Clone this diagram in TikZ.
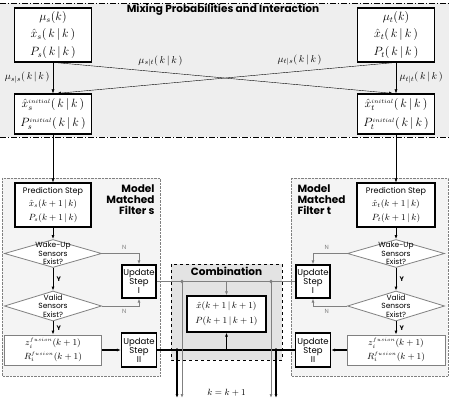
\documentclass[tikz,border=0pt]{standalone}
\usepackage{amsmath}
\usepackage{fontspec}
\newfontfamily\gothic{Poppins}
\usetikzlibrary{shapes.geometric,arrows.meta}

\newcommand{\cnd}[2]{(\,#1\,|\,#2\,)}

\begin{document}
\begin{tikzpicture}[x=1pt,y=-1pt,>={Latex[length=4pt,width=3pt]},
  topbox/.style={draw,very thick,fill=white,align=center,inner sep=0pt,minimum width=77pt,minimum height=54pt,font=\fontsize{12}{17.5}\selectfont},
  initbox/.style={topbox,minimum height=40pt,font=\fontsize{12}{19}\selectfont},
  predbox/.style={draw,very thick,fill=white,align=center,inner sep=0pt,minimum width=76pt,minimum height=44pt,font=\fontsize{9}{13.5}\selectfont},
  updbox/.style={draw,very thick,fill=white,align=center,inner sep=0pt,minimum width=34pt,minimum height=33pt,font=\gothic\fontsize{8.5}{9}\selectfont},
  fusbox/.style={draw=gray,thick,fill=white,align=center,inner sep=0pt,minimum width=97pt,minimum height=30pt,font=\fontsize{9}{13.5}\selectfont},
  combbox/.style={draw,very thick,fill=white,align=center,inner sep=0pt,minimum width=79pt,minimum height=36pt,font=\fontsize{9}{15}\selectfont},
  decision/.style={diamond,draw=gray,thick,fill=white,inner sep=0pt,minimum width=97pt,minimum height=28pt},
  dtext/.style={align=center,font=\gothic\fontsize{7.5}{8.5}\selectfont},
  title/.style={font=\gothic\bfseries\fontsize{10.5}{11}\selectfont},
  nlabel/.style={gray,font=\gothic\fontsize{6}{7}\selectfont},
  ylabel/.style={font=\gothic\bfseries\fontsize{6.5}{7}\selectfont},
  mlabel/.style={font=\fontsize{10}{12}\selectfont},
  garr/.style={->,gray,thick},
  barr/.style={->,thick}]
\useasboundingbox (0,0) rectangle (449,403);

% mixing probabilities region
\fill[gray!13] (0,3) rectangle (449,137);
\draw[dash pattern=on 6pt off 2pt on 1pt off 2pt] (0,3) -- (449,3);
\draw[dash pattern=on 6pt off 2pt on 1pt off 2pt] (0,137) -- (449,137);
\node[title] (mixt) at (223,10) {Mixing Probabilities and Interaction};

\node[topbox] (TL) at (53,35) {$\mu_s(k)$\\$\hat{x}_s\cnd{k}{k}$\\$P_s\cnd{k}{k}$};
\node[topbox] (TR) at (396,35) {$\mu_t(k)$\\$\hat{x}_t\cnd{k}{k}$\\$P_t\cnd{k}{k}$};
\node[initbox] (TLi) at (53,114) {$\hat{x}_s^{\scriptscriptstyle initial}\cnd{k}{k}$\\$P_s^{\scriptscriptstyle initial}\cnd{k}{k}$};
\node[initbox] (TRi) at (396,114) {$\hat{x}_t^{\scriptscriptstyle initial}\cnd{k}{k}$\\$P_t^{\scriptscriptstyle initial}\cnd{k}{k}$};

\draw[->] (TL.south) -- node[left,mlabel] {$\mu_{s|s}\cnd{k}{k}$} (TLi.north);
\draw[->] (TR.south) -- node[right,mlabel] {$\mu_{t|t}\cnd{k}{k}$} (TRi.north);
\draw[->] ([xshift=3pt]TL.south) -- node[pos=.31,above=2pt,mlabel] {$\mu_{s|t}\cnd{k}{k}$} ([xshift=-3pt]TRi.north);
\draw[->] ([xshift=-2pt]TR.south) -- node[pos=.28,above=2pt,mlabel] {$\mu_{t|s}\cnd{k}{k}$} ([xshift=4pt]TLi.north);

% model matched filters
\filldraw[fill=gray!9,draw=gray,densely dotted] (2,178) rectangle (160,376);
\filldraw[fill=gray!9,draw=gray,densely dotted] (291,178) rectangle (448,376);
\node[title,align=right,anchor=north east] (mfs) at (158,181) {Model\\Matched\\Filter s};
\node[title,align=left,anchor=north west] (mft) at (294,181) {Model\\Matched\\Filter t};

\node[predbox] (PL) at (53,205) {{\gothic\fontsize{8}{8}\selectfont Prediction Step}\\$\hat{x}_s(k+1\,|\,k)$\\$P_s(k+1\,|\,k)$};
\node[predbox,minimum width=78pt] (PR) at (396,205) {{\gothic\fontsize{8}{8}\selectfont Prediction Step}\\$\hat{x}_t(k+1\,|\,k)$\\$P_t(k+1\,|\,k)$};
\draw[->] (TLi.south) -- (PL.north);
\draw[->] (TRi.south) -- (PR.north);

\node[decision] (WL) at (53,253.5) {};
\node[dtext] (WLt) at (WL) {Wake-Up\\Sensors\\Exist?};
\node[decision,minimum height=30pt] (VL) at (53,306) {};
\node[dtext] (VLt) at (VL) {Valid\\Sensors\\Exist?};
\node[decision] (WR) at (396,253.5) {};
\node[dtext] (WRt) at (WR) {Wake-Up\\Sensors\\Exist?};
\node[decision,minimum height=30pt] (VR) at (396,306) {};
\node[dtext] (VRt) at (VR) {Valid\\Sensors\\Exist?};

\node[fusbox] (ZL) at (53,350) {$z_i^{\scriptscriptstyle fusion}(k+1)$\\$R_i^{\scriptscriptstyle fusion}(k+1)$};
\node[fusbox,minimum width=98pt] (ZR) at (396,350) {$z_i^{\scriptscriptstyle fusion}(k+1)$\\$R_i^{\scriptscriptstyle fusion}(k+1)$};

\node[updbox] (UL1) at (139,281.5) {Update\\Step\\I};
\node[updbox,minimum width=35pt,minimum height=34pt] (UL2) at (139,350) {Update\\Step\\II};
\node[updbox] (UR1) at (313,281.5) {Update\\Step\\I};
\node[updbox,minimum width=35pt,minimum height=34pt] (UR2) at (313,350) {Update\\Step\\II};

\draw[barr] (PL.south) -- (WL.north);
\draw[barr] (PR.south) -- (WR.north);
\draw[barr] (WL.south) -- node[right,ylabel] {Y} (VL.north);
\draw[barr] (VL.south) -- node[right,ylabel] {Y} (ZL.north);
\draw[barr] (WR.south) -- node[right,ylabel] {Y} (VR.north);
\draw[barr] (VR.south) -- node[right,ylabel] {Y} (ZR.north);
\draw[garr] (WL.east) -| node[pos=.3,above,nlabel] {N} (UL1.north);
\draw[garr] (VL.east) -| node[pos=.3,below,nlabel] {N} (UL1.south);
\draw[garr] (WR.west) -| node[pos=.3,above,nlabel] {N} (UR1.north);
\draw[garr] (VR.west) -| node[pos=.3,below,nlabel] {N} (UR1.south);
\draw[->,line width=1.4pt] (ZL.east) -- (UL2.west);
\draw[->,line width=1.4pt] (ZR.west) -- (UR2.east);

% combination
\filldraw[fill=gray!22,dashed] (171,264) rectangle (282,360);
\node[title] (combt) at (226.5,271) {Combination};
\node[combbox] (CB) at (226.5,314) {$\hat{x}(k+1\,|\,k+1)$\\$P(k+1\,|\,k+1)$};

\coordinate (G1) at (182,281.5);
\coordinate (G2) at (271,281.5);
\coordinate (GC) at (226.5,281.5);
\coordinate (B1) at (177,350);
\coordinate (B2) at (276,350);
\coordinate (BC) at (226.5,350);
\coordinate (G1e) at (182,398);
\coordinate (G2e) at (271,398);
\coordinate (B1e) at (177,398);
\coordinate (B2e) at (276,398);

\draw[gray,thick] (UL1.east) -- (UR1.west);
\draw[line width=1.2pt] (UL2.east) -- (UR2.west);
\draw[garr] (GC) -- (CB.north);
\draw[->,line width=1.2pt] (BC) -- (CB.south);
\draw[garr] (G1) -- (G1e);
\draw[garr] (G2) -- (G2e);
\draw[->,line width=1.2pt] (B1) -- (B1e);
\draw[->,line width=1.2pt] (B2) -- (B2e);
\fill[gray] (G1) circle (1.8pt) (G2) circle (1.8pt);
\fill (B1) circle (1.8pt) (B2) circle (1.8pt);

\node[font=\fontsize{9}{10}\selectfont] (kk) at (226.5,393) {$k=k+1$};
\end{tikzpicture}
\end{document}
